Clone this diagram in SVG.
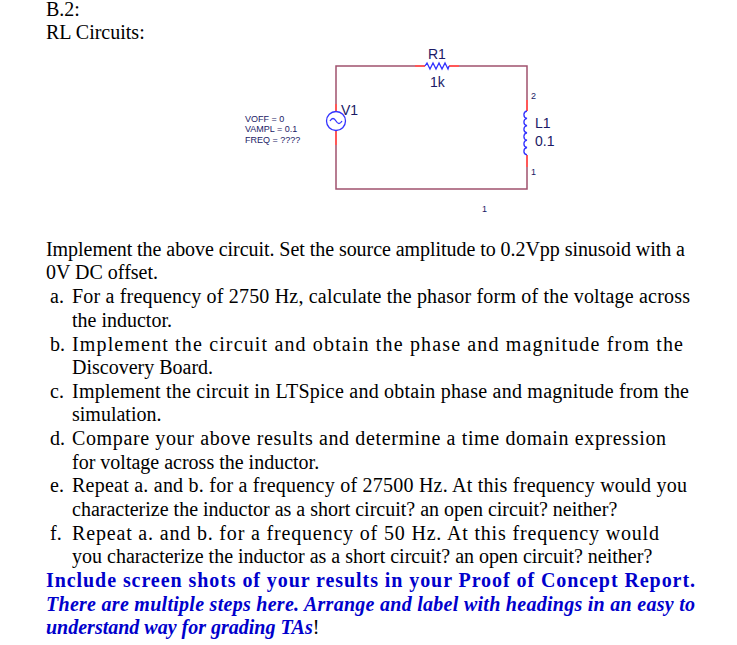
<svg xmlns="http://www.w3.org/2000/svg" width="737" height="645" viewBox="0 0 737 645">
<style>
.t{font-family:"Liberation Serif",serif;font-size:20px;fill:#000}
.b{font-family:"Liberation Serif",serif;font-size:20px;fill:#0000cc;font-weight:bold}
.s{font-family:"Liberation Sans",sans-serif;fill:#1a1a66}
.w{stroke:#a0526e;stroke-width:1.5;fill:none}
.r{stroke:#ff2020;stroke-width:1.5;fill:none}
.c{stroke:#3333ff;stroke-width:1.3;fill:none}
</style>
<rect width="737" height="645" fill="#fff"/>
<text class="t" x="46" y="16">B.2:</text>
<text class="t" x="46" y="39">RL Circuits:</text>
<g id="wires">
<path class="w" d="M415,66H336V104M336,145V189H527V167M527,100V66H459"/>
</g>
<g id="R1">
<path class="r" d="M415,66H425M449,66H459"/>
<path class="c" d="M425,66l2,-3l3,6l3,-6l3,6l3,-6l3,6l3,-6l3,6l1,-3"/>
<text class="s" x="428" y="59" font-size="14">R1</text>
<text class="s" x="430" y="87" font-size="14">1k</text>
</g>
<g id="V1">
<path class="r" d="M336,104V111M336,131V145"/>
<circle class="c" cx="336" cy="121" r="9.5"/>
<path class="c" d="M330,121q3,-5 6,0t6,0"/>
<text class="s" x="341" y="115" font-size="14">V1</text>
<text class="s" x="245" y="122" font-size="9">VOFF = 0</text>
<text class="s" x="245" y="132" font-size="9">VAMPL = 0.1</text>
<text class="s" x="245" y="143" font-size="9">FREQ = ????</text>
</g>
<g id="L1">
<path class="r" d="M527,100V111M527,155V167"/>
<path class="c" d="M527,111a3.7,3.7 0 0 0 0,7.3a3.7,3.7 0 0 0 0,7.3a3.7,3.7 0 0 0 0,7.3a3.7,3.7 0 0 0 0,7.3a3.7,3.7 0 0 0 0,7.3a3.7,3.7 0 0 0 0,7.3"/>
<text class="s" x="531" y="99" font-size="9">2</text>
<text class="s" x="531" y="175" font-size="9">1</text>
<text class="s" x="535" y="128" font-size="14">L1</text>
<text class="s" x="535" y="146" font-size="14">0.1</text>
<text class="s" x="482" y="212" font-size="9">1</text>
</g>
<text class="t" x="46" y="256" textLength="639" lengthAdjust="spacing">Implement the above circuit. Set the source amplitude to 0.2Vpp sinusoid with a</text>
<text class="t" x="46" y="279">0V DC offset.</text>
<text class="t" x="50" y="303">a.</text><text class="t" x="72" y="303" textLength="618" lengthAdjust="spacing">For a frequency of 2750 Hz, calculate the phasor form of the voltage across</text>
<text class="t" x="72" y="327">the inductor.</text>
<text class="t" x="50" y="351">b.</text><text class="t" x="72" y="351" textLength="611" lengthAdjust="spacing">Implement the circuit and obtain the phase and magnitude from the</text>
<text class="t" x="72" y="374">Discovery Board.</text>
<text class="t" x="50" y="398">c.</text><text class="t" x="72" y="398" textLength="617" lengthAdjust="spacing">Implement the circuit in LTSpice and obtain phase and magnitude from the</text>
<text class="t" x="72" y="421">simulation.</text>
<text class="t" x="50" y="445">d.</text><text class="t" x="72" y="445" textLength="594" lengthAdjust="spacing">Compare your above results and determine a time domain expression</text>
<text class="t" x="72" y="469">for voltage across the inductor.</text>
<text class="t" x="50" y="492">e.</text><text class="t" x="72" y="492" textLength="615" lengthAdjust="spacing">Repeat a. and b. for a frequency of 27500 Hz. At this frequency would you</text>
<text class="t" x="72" y="516">characterize the inductor as a short circuit? an open circuit? neither?</text>
<text class="t" x="50" y="540">f.</text><text class="t" x="72" y="540" textLength="587" lengthAdjust="spacing">Repeat a. and b. for a frequency of 50 Hz. At this frequency would</text>
<text class="t" x="72" y="563">you characterize the inductor as a short circuit? an open circuit? neither?</text>
<text class="b" x="46" y="587" textLength="649" lengthAdjust="spacing">Include screen shots of your results in your Proof of Concept Report.</text>
<text class="b" x="46" y="611" font-style="italic" textLength="649" lengthAdjust="spacing">There are multiple steps here. Arrange and label with headings in an easy to</text>
<text class="b" x="46" y="634" font-style="italic">understand way for grading TAs<tspan fill="#000" font-weight="normal" font-style="normal">!</tspan></text>
</svg>
